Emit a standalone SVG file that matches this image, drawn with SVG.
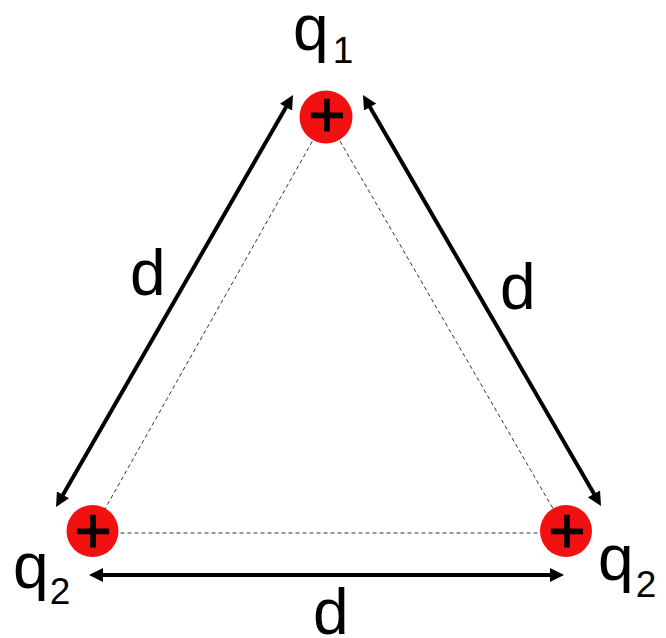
<svg xmlns="http://www.w3.org/2000/svg" width="666" height="638" viewBox="0 0 666 638">
<defs>
<style>
.lbl{font-family:"Liberation Sans",Arial,sans-serif;font-size:64px;fill:#000}
.sub{font-family:"Liberation Sans",Arial,sans-serif;font-size:37px;fill:#000;text-anchor:middle}
.plus{font-family:"Liberation Sans",Arial,sans-serif;font-size:64px;fill:#000;text-anchor:middle;stroke:#000;stroke-width:1}
.charge{fill:#f21111}
.dash{stroke:#333;stroke-width:1;stroke-dasharray:4 3;fill:none}
.arrow{stroke:#000;stroke-width:4;fill:none;marker-start:url(#ah);marker-end:url(#ah)}
</style>
<marker id="ah" viewBox="0 0 14 14" markerWidth="14" markerHeight="14" refX="4" refY="7" markerUnits="userSpaceOnUse" orient="auto-start-reverse">
<path d="M0,0 L14,7 L0,14 z" fill="#000"/>
</marker>
</defs>
<rect width="666" height="638" fill="#fff"/>
<g id="sides">
<line class="dash" x1="326" y1="117" x2="92.5" y2="531"/>
<line class="dash" x1="326" y1="117" x2="566" y2="531"/>
<line class="dash" x1="92.5" y1="533" x2="566" y2="533"/>
</g>
<g id="connectors">
<line class="arrow" x1="288" y1="103.7" x2="61" y2="498.3"/>
<line class="arrow" x1="368" y1="103.7" x2="596" y2="497.3"/>
<line class="arrow" x1="99" y1="575" x2="554" y2="575"/>
</g>
<g id="q1">
<circle class="charge" cx="326" cy="117" r="26.5"/>
<text class="plus" x="327" y="137">+</text>
<text class="lbl" x="293" y="50">q</text>
<text class="sub" x="343" y="63">1</text>
</g>
<g id="q2-left">
<circle class="charge" cx="92.5" cy="531" r="26"/>
<text class="plus" x="93" y="553">+</text>
<text class="lbl" x="13" y="588">q</text>
<text class="sub" x="60" y="604">2</text>
</g>
<g id="q2-right">
<circle class="charge" cx="566" cy="531" r="26"/>
<text class="plus" x="567" y="553">+</text>
<text class="lbl" x="598" y="580">q</text>
<text class="sub" x="646" y="597">2</text>
</g>
<g id="labels">
<text class="lbl" x="130" y="295">d</text>
<text class="lbl" x="500" y="309">d</text>
<text class="lbl" x="313" y="634">d</text>
</g>
</svg>
